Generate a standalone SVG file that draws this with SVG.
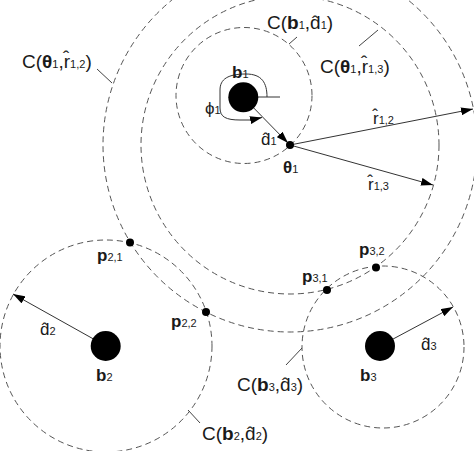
<svg xmlns="http://www.w3.org/2000/svg" width="474" height="451" viewBox="0 0 474 451">
<style>
.dash{fill:none;stroke:#555;stroke-width:1;stroke-dasharray:6 4}
.ln{fill:none;stroke:#333;stroke-width:1}
.ld{fill:none;stroke:#444;stroke-width:1}
.big{fill:#000}
.dot{fill:#000}
text{font-family:"Liberation Sans",Arial,sans-serif;fill:#1a1a1a}
.c{font-size:19px}
.l{font-size:17px}
.b{font-weight:bold}
.s{font-size:11px;font-weight:normal}
</style>
<defs>
<marker id="ah" viewBox="0 0 12 8" refX="12" refY="4" markerWidth="12" markerHeight="8" markerUnits="userSpaceOnUse" orient="auto">
<path d="M0,0 L12,4 L0,8 z" fill="#000"/>
</marker>
</defs>
<rect width="474" height="451" fill="#fff"/>

<g id="circle-theta1-r12"><circle class="dash" cx="290" cy="145" r="187"/></g>
<g id="circle-theta1-r13"><circle class="dash" cx="290" cy="145" r="149"/></g>
<g id="circle-b1"><circle class="dash" cx="244" cy="95.5" r="68"/></g>
<g id="circle-b2"><circle class="dash" cx="106" cy="346" r="106"/></g>
<g id="circle-b3"><circle class="dash" cx="383" cy="347" r="81"/></g>

<g id="connectors">
<line class="ln" x1="243" y1="97" x2="288" y2="143" marker-end="url(#ah)"/>
<line class="ln" x1="290" y1="145" x2="473" y2="109" marker-end="url(#ah)"/>
<line class="ln" x1="290" y1="145" x2="433" y2="185" marker-end="url(#ah)"/>
<line class="ln" x1="106" y1="346" x2="13" y2="294" marker-end="url(#ah)"/>
<line class="ln" x1="380" y1="346" x2="453" y2="307" marker-end="url(#ah)"/>
<line class="ln" x1="256" y1="97" x2="280" y2="97"/>
<path class="ln" d="M267,97 C267,83 262,74 246,74 C228,74 220,79 220,90 L220,108 C220,117 226,120 240,120 L251,120 L262,117.5" marker-end="url(#ah)"/>
<line class="ld" x1="97" y1="69" x2="112" y2="83"/>
<line class="ld" x1="289" y1="44" x2="297" y2="37"/>
<line class="ld" x1="359" y1="46" x2="378" y2="30"/>
<line class="ld" x1="302" y1="348" x2="286" y2="365"/>
<line class="ld" x1="188" y1="410" x2="200" y2="423"/>
</g>

<g id="b1"><circle class="big" cx="243.3" cy="97.3" r="15"/><text class="l b" x="232" y="78">b<tspan class="s">1</tspan></text></g>
<g id="b2"><circle class="big" cx="105.7" cy="346" r="15"/><text class="l b" x="96" y="381">b<tspan class="s">2</tspan></text></g>
<g id="b3"><circle class="big" cx="380" cy="346" r="15"/><text class="l b" x="360" y="381">b<tspan class="s">3</tspan></text></g>
<g id="theta1"><circle class="dot" cx="290" cy="145" r="4"/><text class="l b" x="283" y="173">θ<tspan class="s">1</tspan></text></g>
<g id="p21"><circle class="dot" cx="130" cy="242.5" r="4"/><text class="l b" x="97" y="261">p<tspan class="s">2,1</tspan></text></g>
<g id="p22"><circle class="dot" cx="206" cy="312" r="4"/><text class="l b" x="171" y="327">p<tspan class="s">2,2</tspan></text></g>
<g id="p31"><circle class="dot" cx="327" cy="290" r="4"/><text class="l b" x="302" y="282">p<tspan class="s">3,1</tspan></text></g>
<g id="p32"><circle class="dot" cx="376" cy="267.5" r="4"/><text class="l b" x="359" y="255">p<tspan class="s">3,2</tspan></text></g>

<g id="labels">
<text class="c" x="22" y="68">C(<tspan class="b">θ</tspan><tspan class="s">1</tspan>,r̂<tspan class="s">1,2</tspan>)</text>
<text class="c" x="267" y="29">C(<tspan class="b">b</tspan><tspan class="s">1</tspan>,d̂<tspan class="s">1</tspan>)</text>
<text class="c" x="320" y="73">C(<tspan class="b">θ</tspan><tspan class="s">1</tspan>,r̂<tspan class="s">1,3</tspan>)</text>
<text class="c" x="237" y="391">C(<tspan class="b">b</tspan><tspan class="s">3</tspan>,d̂<tspan class="s">3</tspan>)</text>
<text class="c" x="202" y="440">C(<tspan class="b">b</tspan><tspan class="s">2</tspan>,d̂<tspan class="s">2</tspan>)</text>
<text class="l" x="205" y="114">ϕ<tspan class="s">1</tspan></text>
<text class="l" x="261" y="145">d̂<tspan class="s">1</tspan></text>
<text class="l" x="373" y="124">r̂<tspan class="s">1,2</tspan></text>
<text class="l" x="368" y="190">r̂<tspan class="s">1,3</tspan></text>
<text class="l" x="40" y="335">d̂<tspan class="s">2</tspan></text>
<text class="l" x="421" y="350">d̂<tspan class="s">3</tspan></text>
</g>
</svg>
